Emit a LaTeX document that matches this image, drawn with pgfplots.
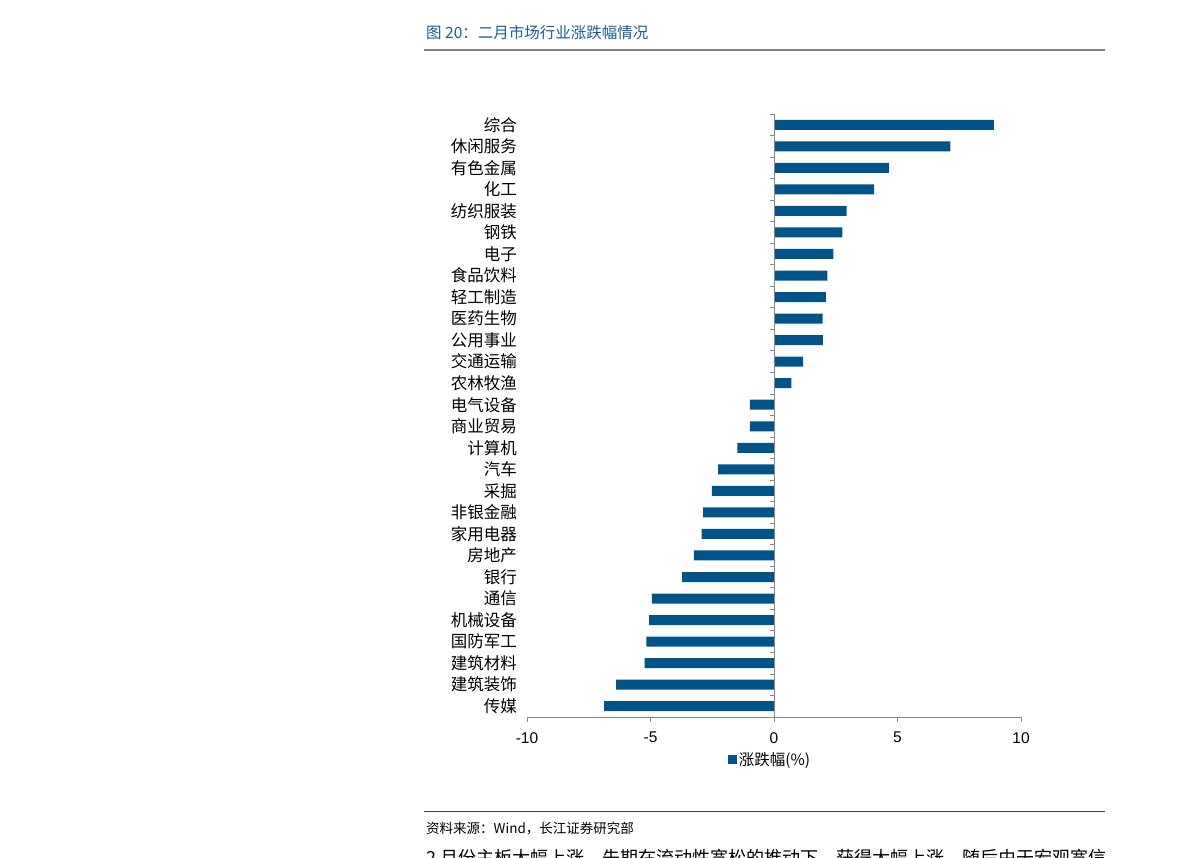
\documentclass[border=0pt]{standalone}
\usepackage{fontspec}
\setmainfont{Liberation Sans}
\newfontfamily\cjk{Noto Sans CJK SC}
\usepackage{pgfplots}
\pgfplotsset{compat=1.18}
\definecolor{barblue}{HTML}{005487}
\definecolor{titleblue}{HTML}{1B5E8E}
\definecolor{axisgray}{HTML}{868686}
\definecolor{rulegray}{HTML}{808080}
\begin{document}
\begin{tikzpicture}
\useasboundingbox (0pt,0pt) rectangle (1191pt,858pt);
% title and rules
\node[anchor=base west, inner sep=0pt, text=titleblue, font=\cjk\fontsize{15.5}{18}\selectfont] at (426pt,819pt) {图 20：二月市场行业涨跌幅情况};
\draw[rulegray, line width=2.5pt] (424pt,808pt) -- (1105pt,808pt);
\draw[black!75, line width=1pt] (424pt,46pt) -- (1105pt,46pt);
\node[anchor=base west, inner sep=0pt, font=\cjk\fontsize{13.5}{16}\selectfont] at (426pt,24pt) {资料来源：Wind，长江证券研究部};
\node[anchor=base west, inner sep=0pt, font=\cjk\fontsize{18}{20}\selectfont] at (426pt,-7pt) {2 月份主板大幅上涨，先期在流动性宽松的推动下，获得大幅上涨，随后由于宏观宽信};
\begin{axis}[
    at={(527pt,141pt)}, anchor=south west,
    width=494pt, height=603pt, scale only axis,
    xbar, bar width=10pt,
    xmin=-10, xmax=10,
    ymin=-0.5, ymax=27.5, y dir=reverse,
    axis x line*=bottom,
    axis y line*=left,
    y axis line style={draw=none},
    x axis line style={axisgray, line width=0.8pt},
    xtick={-10,-5,0,5,10},
    xtick align=outside,
    major tick length=5pt,
    x tick style={axisgray, line width=0.8pt},
    y tick style={draw=none},
    /pgf/number format/assume math mode=true,
    ytick={0,...,27},
    yticklabels={综合,休闲服务,有色金属,化工,纺织服装,钢铁,电子,食品饮料,轻工制造,医药生物,公用事业,交通运输,农林牧渔,电气设备,商业贸易,计算机,汽车,采掘,非银金融,家用电器,房地产,银行,通信,机械设备,国防军工,建筑材料,建筑装饰,传媒},
    yticklabel style={font=\cjk\fontsize{16.5}{18}\selectfont, anchor=east, inner sep=0pt, xshift=-5pt},
    xticklabel style={font=\fontsize{15.5}{17}\selectfont, inner sep=0pt, yshift=-10pt},
    legend style={at={(0.492,-0.0713)}, anchor=center, draw=none, fill=none,
        font=\cjk\fontsize{15.5}{18}\selectfont, inner sep=0pt},
    legend image code/.code={\fill[barblue] (0pt,-4.5pt) rectangle (9pt,4.5pt);},
]
\addplot[fill=barblue, draw=none] coordinates {
(8.90,0) (7.14,1) (4.66,2) (4.05,3) (2.94,4) (2.77,5) (2.40,6) (2.16,7)
(2.10,8) (1.97,9) (1.98,10) (1.18,11) (0.70,12) (-0.98,13) (-0.98,14)
(-1.48,15) (-2.26,16) (-2.52,17) (-2.87,18) (-2.93,19) (-3.24,20)
(-3.72,21) (-4.94,22) (-5.06,23) (-5.17,24) (-5.24,25) (-6.39,26) (-6.88,27)
};
\addlegendentry{涨跌幅(\%)}
\draw[axisgray, line width=0.8pt] (axis cs:0,-0.5) -- (axis cs:0,27.5);
\pgfplotsinvokeforeach{-0.5,0.5,...,27.5}{
  \draw[axisgray, line width=0.8pt] (axis cs:0,#1) -- ++(-4pt,0pt);
}
\end{axis}
\end{tikzpicture}
\end{document}
